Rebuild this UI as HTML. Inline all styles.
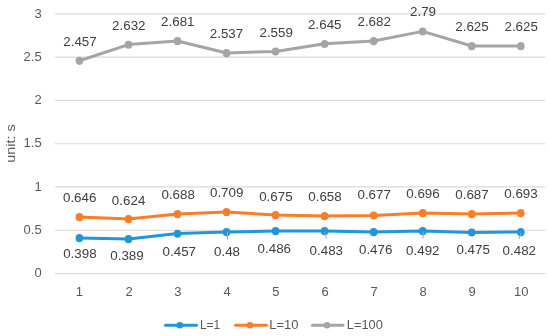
<!DOCTYPE html>
<html><head><meta charset="utf-8"><title>chart</title>
<style>html,body{margin:0;padding:0;background:#fff}svg{display:block}</style></head>
<body>
<svg width="550" height="336" viewBox="0 0 550 336" font-family="Liberation Sans, sans-serif" font-size="13">
<rect width="550" height="336" fill="#fff"/>
<g stroke="#d9d9d9" stroke-width="1.1">
<line x1="54.9" x2="545.3" y1="273.5" y2="273.5"/>
<line x1="54.9" x2="545.3" y1="230.2" y2="230.2"/>
<line x1="54.9" x2="545.3" y1="186.9" y2="186.9"/>
<line x1="54.9" x2="545.3" y1="143.7" y2="143.7"/>
<line x1="54.9" x2="545.3" y1="100.4" y2="100.4"/>
<line x1="54.9" x2="545.3" y1="57.1" y2="57.1"/>
<line x1="54.9" x2="545.3" y1="13.9" y2="13.9"/>
</g>
<g>
<text transform="translate(41.7,277.1) scale(1.0,1)" text-anchor="end" fill="#595959">0</text>
<text transform="translate(41.7,233.8) scale(1.0,1)" text-anchor="end" fill="#595959">0.5</text>
<text transform="translate(41.7,190.5) scale(1.0,1)" text-anchor="end" fill="#595959">1</text>
<text transform="translate(41.7,147.3) scale(1.0,1)" text-anchor="end" fill="#595959">1.5</text>
<text transform="translate(41.7,104.0) scale(1.0,1)" text-anchor="end" fill="#595959">2</text>
<text transform="translate(41.7,60.7) scale(1.0,1)" text-anchor="end" fill="#595959">2.5</text>
<text transform="translate(41.7,17.5) scale(1.0,1)" text-anchor="end" fill="#595959">3</text>
</g>
<g>
<text transform="translate(79.3,296.0) scale(1.0,1)" text-anchor="middle" fill="#595959">1</text>
<text transform="translate(129.0,296.0) scale(1.0,1)" text-anchor="middle" fill="#595959">2</text>
<text transform="translate(177.8,296.0) scale(1.0,1)" text-anchor="middle" fill="#595959">3</text>
<text transform="translate(227.0,296.0) scale(1.0,1)" text-anchor="middle" fill="#595959">4</text>
<text transform="translate(275.8,296.0) scale(1.0,1)" text-anchor="middle" fill="#595959">5</text>
<text transform="translate(325.0,296.0) scale(1.0,1)" text-anchor="middle" fill="#595959">6</text>
<text transform="translate(374.0,296.0) scale(1.0,1)" text-anchor="middle" fill="#595959">7</text>
<text transform="translate(423.0,296.0) scale(1.0,1)" text-anchor="middle" fill="#595959">8</text>
<text transform="translate(472.0,296.0) scale(1.0,1)" text-anchor="middle" fill="#595959">9</text>
<text transform="translate(521.2,296.0) scale(1.0,1)" text-anchor="middle" fill="#595959">10</text>
</g>
<text transform="translate(15.4,143.5) rotate(-90)" text-anchor="middle" font-size="13.5" textLength="38.5" lengthAdjust="spacingAndGlyphs" fill="#595959">unit: s</text>
<g fill="#2196dc">
<polyline points="79.4,238.0 128.5,239.0 177.5,233.6 226.5,232.0 275.6,231.0 324.6,231.0 373.7,232.0 422.7,231.0 471.7,232.4 520.8,232.0" fill="none" stroke="#2196dc" stroke-width="3" stroke-linejoin="round" stroke-linecap="round"/>
<ellipse cx="79.4" cy="238.15" rx="3.8" ry="4.05"/>
<ellipse cx="128.5" cy="239.15" rx="3.8" ry="4.05"/>
<ellipse cx="177.5" cy="233.75" rx="3.8" ry="4.05"/>
<ellipse cx="226.5" cy="232.15" rx="3.8" ry="4.05"/>
<ellipse cx="275.6" cy="231.15" rx="3.8" ry="4.05"/>
<ellipse cx="324.6" cy="231.15" rx="3.8" ry="4.05"/>
<ellipse cx="373.7" cy="232.15" rx="3.8" ry="4.05"/>
<ellipse cx="422.7" cy="231.15" rx="3.8" ry="4.05"/>
<ellipse cx="471.7" cy="232.55" rx="3.8" ry="4.05"/>
<ellipse cx="520.8" cy="232.15" rx="3.8" ry="4.05"/>
</g>
<g>
<text transform="translate(79.9,258.4) scale(1.03,1)" text-anchor="middle" fill="#404040">0.398</text>
<text transform="translate(127.0,260.4) scale(1.03,1)" text-anchor="middle" fill="#404040">0.389</text>
<text transform="translate(179.3,256.0) scale(1.03,1)" text-anchor="middle" fill="#404040">0.457</text>
<text transform="translate(227.0,256.0) scale(1.03,1)" text-anchor="middle" fill="#404040">0.48</text>
<text transform="translate(274.3,253.0) scale(1.03,1)" text-anchor="middle" fill="#404040">0.486</text>
<text transform="translate(326.3,255.0) scale(1.03,1)" text-anchor="middle" fill="#404040">0.483</text>
<text transform="translate(375.7,254.4) scale(1.03,1)" text-anchor="middle" fill="#404040">0.476</text>
<text transform="translate(422.8,255.4) scale(1.03,1)" text-anchor="middle" fill="#404040">0.492</text>
<text transform="translate(473.2,254.0) scale(1.03,1)" text-anchor="middle" fill="#404040">0.475</text>
<text transform="translate(519.3,255.4) scale(1.03,1)" text-anchor="middle" fill="#404040">0.482</text>
</g>
<g fill="#fa7d28">
<polyline points="79.4,217.0 128.5,219.0 177.5,214.0 226.5,212.0 275.6,215.0 324.6,216.0 373.7,215.4 422.7,213.0 471.7,214.0 520.8,213.0" fill="none" stroke="#fa7d28" stroke-width="3" stroke-linejoin="round" stroke-linecap="round"/>
<ellipse cx="79.4" cy="217.15" rx="3.8" ry="4.05"/>
<ellipse cx="128.5" cy="219.15" rx="3.8" ry="4.05"/>
<ellipse cx="177.5" cy="214.15" rx="3.8" ry="4.05"/>
<ellipse cx="226.5" cy="212.15" rx="3.8" ry="4.05"/>
<ellipse cx="275.6" cy="215.15" rx="3.8" ry="4.05"/>
<ellipse cx="324.6" cy="216.15" rx="3.8" ry="4.05"/>
<ellipse cx="373.7" cy="215.55" rx="3.8" ry="4.05"/>
<ellipse cx="422.7" cy="213.15" rx="3.8" ry="4.05"/>
<ellipse cx="471.7" cy="214.15" rx="3.8" ry="4.05"/>
<ellipse cx="520.8" cy="213.15" rx="3.8" ry="4.05"/>
</g>
<g>
<text transform="translate(79.7,202.4) scale(1.03,1)" text-anchor="middle" fill="#404040">0.646</text>
<text transform="translate(128.6,205.0) scale(1.03,1)" text-anchor="middle" fill="#404040">0.624</text>
<text transform="translate(178.2,199.4) scale(1.03,1)" text-anchor="middle" fill="#404040">0.688</text>
<text transform="translate(226.7,197.0) scale(1.03,1)" text-anchor="middle" fill="#404040">0.709</text>
<text transform="translate(275.9,200.6) scale(1.03,1)" text-anchor="middle" fill="#404040">0.675</text>
<text transform="translate(325.0,201.4) scale(1.03,1)" text-anchor="middle" fill="#404040">0.658</text>
<text transform="translate(374.2,199.4) scale(1.03,1)" text-anchor="middle" fill="#404040">0.677</text>
<text transform="translate(423.0,198.0) scale(1.03,1)" text-anchor="middle" fill="#404040">0.696</text>
<text transform="translate(472.0,199.4) scale(1.03,1)" text-anchor="middle" fill="#404040">0.687</text>
<text transform="translate(521.0,198.0) scale(1.03,1)" text-anchor="middle" fill="#404040">0.693</text>
</g>
<g fill="#a5a5a5">
<polyline points="79.4,60.7 128.5,44.6 177.5,41.0 226.5,53.0 275.6,51.4 324.6,43.8 373.7,41.0 422.7,31.4 471.7,46.0 520.8,46.0" fill="none" stroke="#a5a5a5" stroke-width="3" stroke-linejoin="round" stroke-linecap="round"/>
<ellipse cx="79.4" cy="60.85" rx="3.8" ry="4.05"/>
<ellipse cx="128.5" cy="44.75" rx="3.8" ry="4.05"/>
<ellipse cx="177.5" cy="41.15" rx="3.8" ry="4.05"/>
<ellipse cx="226.5" cy="53.15" rx="3.8" ry="4.05"/>
<ellipse cx="275.6" cy="51.55" rx="3.8" ry="4.05"/>
<ellipse cx="324.6" cy="43.95" rx="3.8" ry="4.05"/>
<ellipse cx="373.7" cy="41.15" rx="3.8" ry="4.05"/>
<ellipse cx="422.7" cy="31.55" rx="3.8" ry="4.05"/>
<ellipse cx="471.7" cy="46.15" rx="3.8" ry="4.05"/>
<ellipse cx="520.8" cy="46.15" rx="3.8" ry="4.05"/>
</g>
<g>
<text transform="translate(80.0,45.6) scale(1.03,1)" text-anchor="middle" fill="#404040">2.457</text>
<text transform="translate(128.8,30.0) scale(1.03,1)" text-anchor="middle" fill="#404040">2.632</text>
<text transform="translate(177.8,25.8) scale(1.03,1)" text-anchor="middle" fill="#404040">2.681</text>
<text transform="translate(226.5,38.4) scale(1.03,1)" text-anchor="middle" fill="#404040">2.537</text>
<text transform="translate(276.2,37.0) scale(1.03,1)" text-anchor="middle" fill="#404040">2.559</text>
<text transform="translate(324.8,29.0) scale(1.03,1)" text-anchor="middle" fill="#404040">2.645</text>
<text transform="translate(374.2,26.0) scale(1.03,1)" text-anchor="middle" fill="#404040">2.682</text>
<text transform="translate(423.0,16.4) scale(1.03,1)" text-anchor="middle" fill="#404040">2.79</text>
<text transform="translate(472.0,31.0) scale(1.03,1)" text-anchor="middle" fill="#404040">2.625</text>
<text transform="translate(521.2,31.0) scale(1.03,1)" text-anchor="middle" fill="#404040">2.625</text>
</g>
<g stroke="#a6a6a6" stroke-width="1" fill="none">
<line x1="227.5" y1="232" x2="227.5" y2="239.5"/>
<line x1="324.6" y1="232" x2="326.6" y2="238.6"/>
<line x1="423" y1="231.6" x2="423" y2="238.6"/>
<line x1="521" y1="233" x2="519" y2="239"/>
</g>
<line x1="165.5" x2="196.5" y1="325.3" y2="325.3" stroke="#2196dc" stroke-width="3" stroke-linecap="round"/>
<circle cx="179.8" cy="325.3" r="3.3" fill="#2196dc"/>
<text x="199.9" y="329.1" fill="#595959" textLength="20.4" lengthAdjust="spacingAndGlyphs">L=1</text>
<line x1="235.5" x2="266.5" y1="325.3" y2="325.3" stroke="#fa7d28" stroke-width="3" stroke-linecap="round"/>
<circle cx="250" cy="325.3" r="3.3" fill="#fa7d28"/>
<text x="269.2" y="329.1" fill="#595959" textLength="29.2" lengthAdjust="spacingAndGlyphs">L=10</text>
<line x1="312.5" x2="343" y1="325.3" y2="325.3" stroke="#a5a5a5" stroke-width="3" stroke-linecap="round"/>
<circle cx="327" cy="325.3" r="3.3" fill="#a5a5a5"/>
<text x="346.8" y="329.1" fill="#595959" textLength="36.1" lengthAdjust="spacingAndGlyphs">L=100</text>
</svg>
</body></html>
